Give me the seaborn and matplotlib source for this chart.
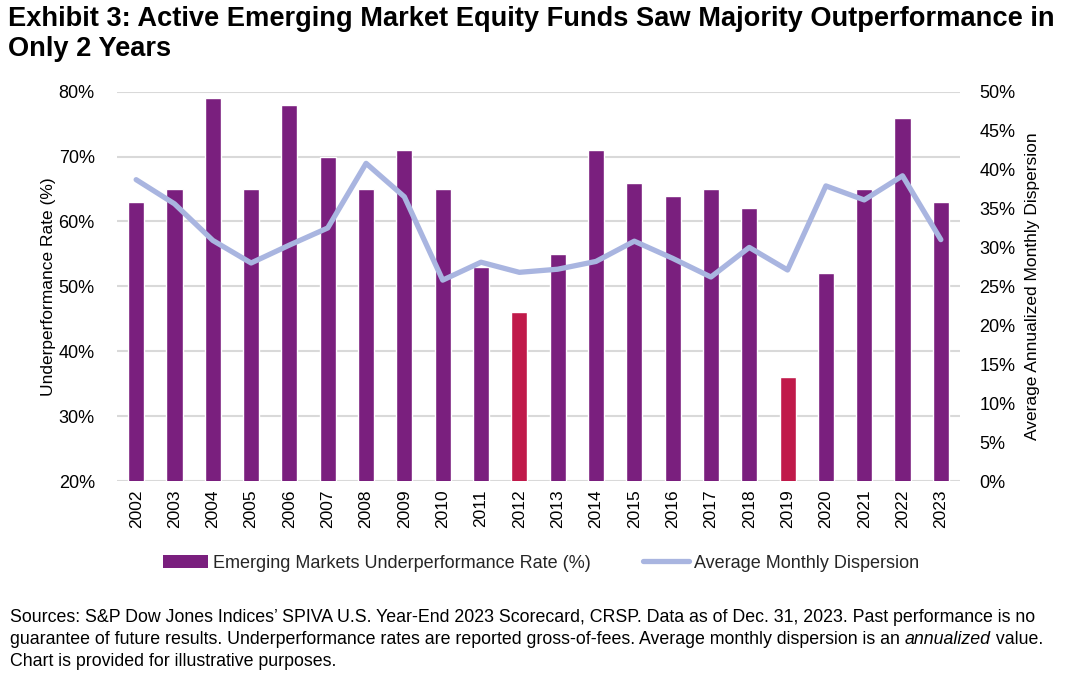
import numpy as np
import pandas as pd
import matplotlib
matplotlib.use("Agg")
import matplotlib.pyplot as plt
import seaborn as sns
from matplotlib.patches import Patch
from matplotlib.lines import Line2D
from matplotlib.ticker import FuncFormatter, MultipleLocator

years = [str(y) for y in range(2002, 2024)]
underperformance = [63, 65, 79, 65, 78, 70, 65, 71, 65, 53, 46, 55, 71, 66, 64, 65, 62, 36, 52, 65, 76, 63]
dispersion = [38.7, 35.6, 30.9, 28.0, 30.3, 32.5, 40.8, 36.5, 25.8, 28.1, 26.8, 27.2, 28.2, 30.8,
              28.6, 26.2, 30.0, 27.1, 37.9, 36.1, 39.2, 31.0]
bar_label = "Emerging Markets Underperformance Rate (%)"
line_label = "Average Monthly Dispersion"
title = "Exhibit 3: Active Emerging Market Equity Funds Saw Majority Outperformance in\nOnly 2 Years"

PURPLE = "#7A1F7E"
RED = "#C01A4A"
LINE = "#A9B5E0"
GRID = "#D9D9D9"

sns.set_theme(style="white")
plt.rcParams["font.family"] = ["Liberation Sans", "DejaVu Sans"]

df = pd.DataFrame({"year": years, "rate": underperformance, "disp": dispersion})
colors = {y: (RED if v < 50 else PURPLE) for y, v in zip(years, underperformance)}

fig = plt.figure(figsize=(10.74, 6.85), dpi=100)
ax = fig.add_axes([117 / 1074, 1 - 481 / 685, (960 - 117) / 1074, (481 - 91.7) / 685])

sns.barplot(data=df, x="year", y="rate", hue="year", palette=colors, legend=False,
            width=0.42, saturation=1, ax=ax, zorder=2)
ax.set_ylim(20, 80)
ax.set_xlim(-0.5, len(years) - 0.5)
ax.yaxis.set_major_locator(MultipleLocator(10))
ax.yaxis.set_major_formatter(FuncFormatter(lambda v, p: f"{v:.0f}%"))
ax.grid(axis="y", color=GRID, linewidth=1.5, zorder=0)
ax.set_axisbelow(True)
for s in ax.spines.values():
    s.set_visible(False)
ax.tick_params(axis="x", labelrotation=90, labelsize=12.5, colors="#000000", pad=6, length=0)
ax.tick_params(axis="y", labelsize=13, colors="#000000", pad=16, length=0)
ax.set_xlabel("")
ax.set_ylabel("Underperformance Rate (%)", fontsize=12.5, color="#000000", labelpad=2)

ax2 = ax.twinx()
sns.lineplot(x=np.arange(len(years)), y=dispersion, color=LINE, linewidth=3.8, ax=ax2,
             solid_joinstyle="round", zorder=3)
ax2.set_ylim(0, 50)
ax2.yaxis.set_major_locator(MultipleLocator(5))
ax2.yaxis.set_major_formatter(FuncFormatter(lambda v, p: f"{v:.0f}%"))
for s in ax2.spines.values():
    s.set_visible(False)
ax2.tick_params(axis="y", labelsize=13, colors="#000000", pad=14, length=0)
ax2.set_ylabel("Average Annualized Monthly Dispersion", fontsize=12.5, color="#000000", labelpad=7)
ax2.grid(False)

handles = [Patch(facecolor=PURPLE, edgecolor="none"),
           Line2D([0], [0], color=LINE, linewidth=3.8)]
fig.legend(handles, [bar_label, line_label], loc="center", bbox_to_anchor=(541 / 1074, 1 - 563 / 685),
           ncol=2, frameon=False, fontsize=13, handlelength=2.5, handleheight=0.7,
           columnspacing=2.9, handletextpad=0.3)

fig.text(8 / 1074, 1 - 6 / 685, title, fontsize=19.6, fontweight="bold", va="top", ha="left",
         linespacing=1.22, color="#000000")

fs = 12.8
t1 = fig.text(10 / 1074, 1 - 617 / 685,
              "Sources: S&P Dow Jones Indices\u2019 SPIVA U.S. Year-End 2023 Scorecard, CRSP. Data as of Dec. 31, 2023. Past performance is no",
              fontsize=fs, va="center", ha="left", color="#000000")
t2a = fig.text(10 / 1074, 1 - 639 / 685,
               "guarantee of future results. Underperformance rates are reported gross-of-fees. Average monthly dispersion is an ",
               fontsize=fs, va="center", ha="left", color="#000000")
t2b = ax.annotate("annualized", xy=(1, 0), xycoords=t2a, va="bottom", ha="left", fontsize=fs,
                  fontstyle="italic", color="#000000", annotation_clip=False)
t2c = ax.annotate(" value.", xy=(1, 0), xycoords=t2b, va="bottom", ha="left", fontsize=fs,
                  color="#000000", annotation_clip=False)
t3 = fig.text(10 / 1074, 1 - 661 / 685, "Chart is provided for illustrative purposes.",
              fontsize=fs, va="center", ha="left", color="#000000")

fig.savefig("out.png", dpi=100)
